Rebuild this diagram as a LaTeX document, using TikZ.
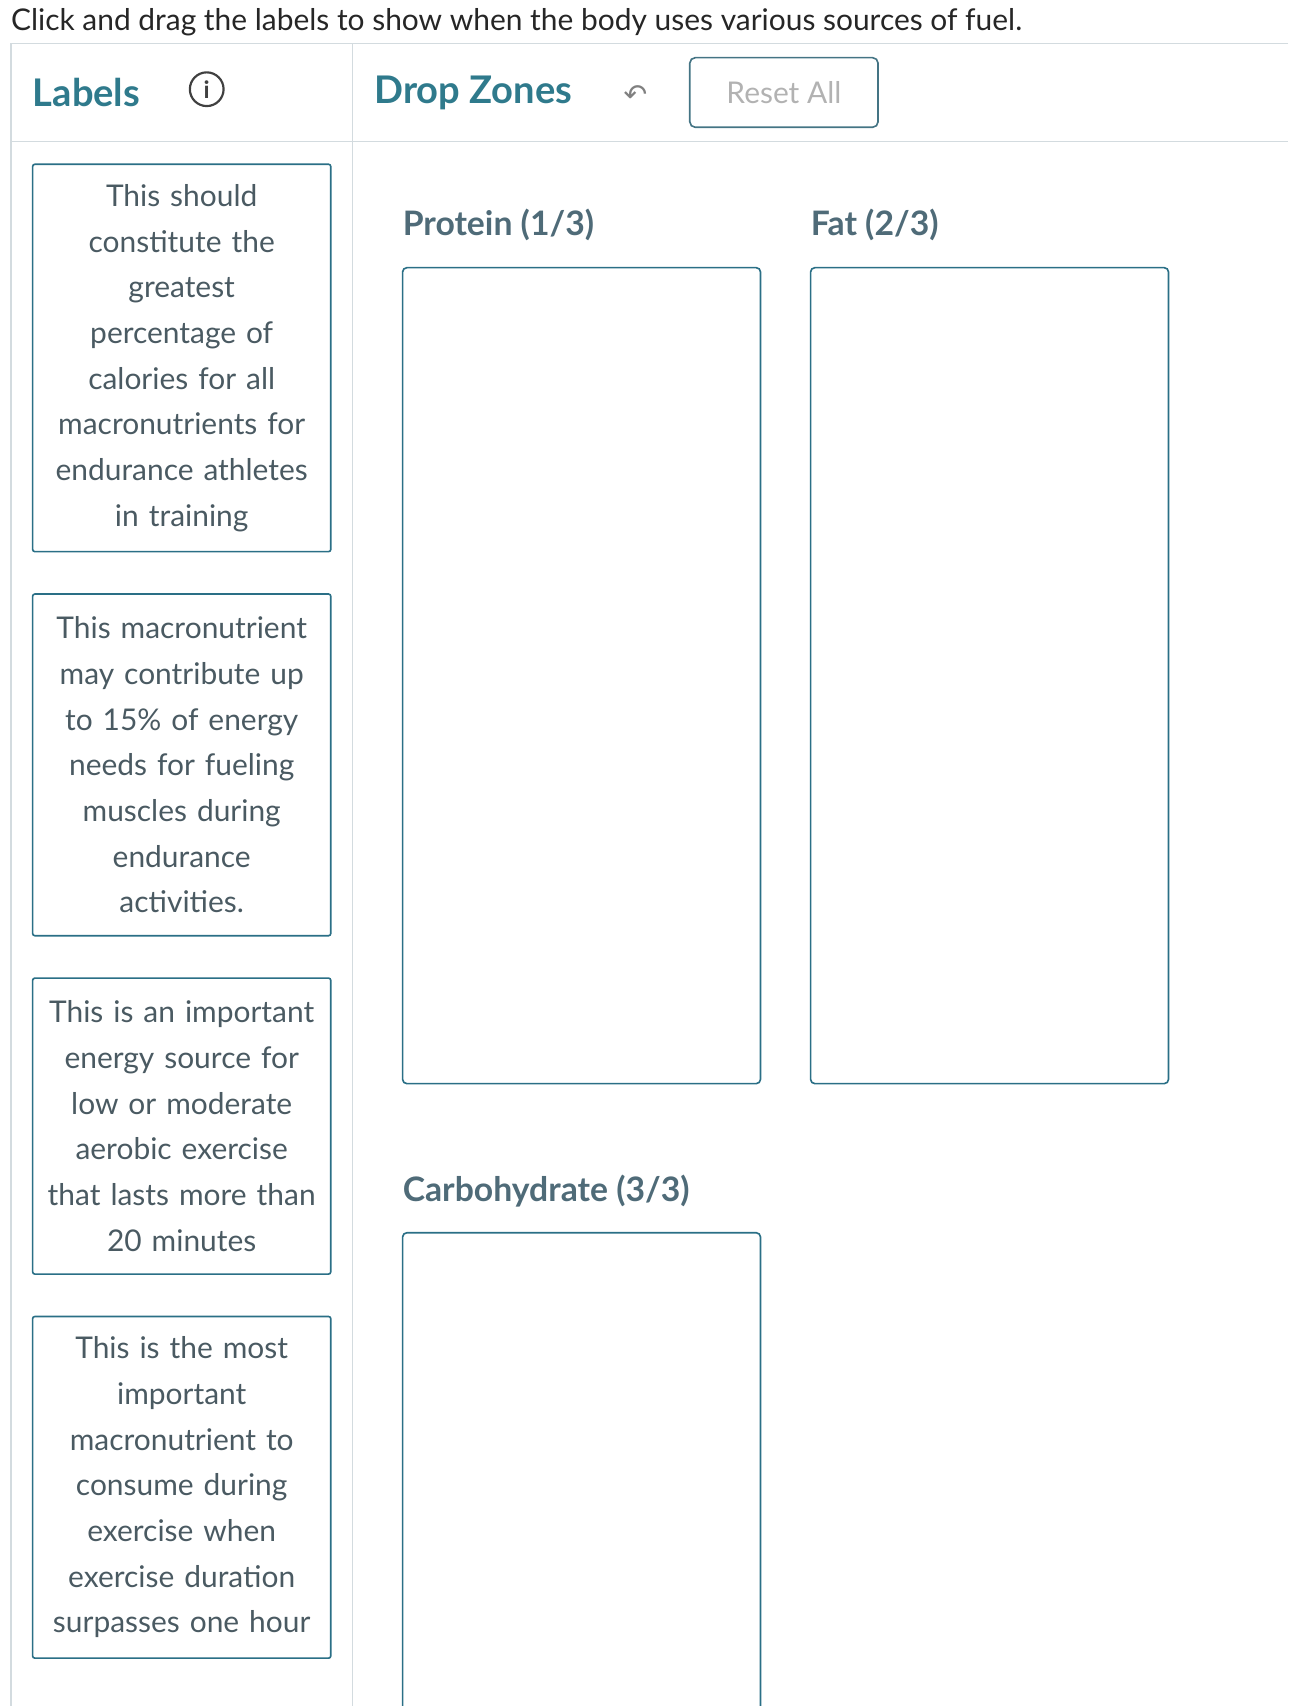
\documentclass[tikz,border=0pt]{standalone}
\usepackage{fontspec}
\setmainfont{Lato}
\definecolor{teal1}{HTML}{2F7A8C}
\definecolor{boxc}{HTML}{2A6F86}
\definecolor{txt}{HTML}{4A5A62}
\definecolor{grid}{HTML}{D3DBDF}
\definecolor{zonet}{HTML}{4F6B78}
\begin{document}
\begin{tikzpicture}[x=1pt,y=-1pt,
  lbl/.style={draw=boxc,line width=1.5pt,rounded corners=2pt,text=txt,align=center,text width=274pt,minimum width=274pt,inner sep=0pt,font=\fontsize{27.5}{42}\selectfont},
  zone/.style={draw=boxc,line width=1.5pt,rounded corners=4pt},
  ztitle/.style={anchor=west,text=zonet,font=\fontsize{31}{34}\selectfont\bfseries,inner sep=0pt},
  gl/.style={draw=grid,line width=1.5pt}]
\useasboundingbox (0,0) rectangle (1184,1568);
\node[anchor=west,inner sep=0pt,text=black!85,font=\fontsize{27.5}{30}\selectfont] (title) at (10,20) {Click and drag the labels to show when the body uses various sources of fuel.};
\draw[gl] (1184,40) -- (10,40) -- (10,1568);
\draw[gl] (324,40) -- (324,1568);
\draw[gl] (10,130) -- (1184,130);
\node[anchor=west,inner sep=0pt,text=teal1,font=\fontsize{35}{36}\selectfont\bfseries] (lab) at (30,85) {Labels};
\node[draw=black!75,circle,line width=2pt,minimum size=31pt,inner sep=0pt,text=black!75,font=\fontsize{22}{22}\selectfont\bfseries] (info) at (190,82) {i};
\node[anchor=west,inner sep=0pt,text=teal1,font=\fontsize{35}{36}\selectfont\bfseries] (dz) at (344,85) {Drop Zones};
\node[text=black!50,inner sep=0pt,font=\fontsize{26}{26}\selectfont] (undo) at (584,87) {\fontspec{DejaVu Sans}↶};
\node[draw=boxc!70!gray,line width=1.5pt,rounded corners=5pt,minimum width=173pt,minimum height=64pt,text=gray!60,font=\fontsize{27.5}{30}\selectfont] (reset) at (720.5,85) {Reset All};
\node[lbl,minimum height=356pt] (l1) at (167,329) {This should\\constitute the\\greatest\\percentage of\\calories for all\\macronutrients for\\endurance athletes\\in training};
\node[lbl,minimum height=314pt] (l2) at (167,703) {This macronutrient\\may contribute up\\to 15\% of energy\\needs for fueling\\muscles during\\endurance\\activities.};
\node[lbl,minimum height=272pt] (l3) at (167,1035) {This is an important\\energy source for\\low or moderate\\aerobic exercise\\that lasts more than\\20 minutes};
\node[lbl,minimum height=314pt] (l4) at (167,1367) {This is the most\\important\\macronutrient to\\consume during\\exercise when\\exercise duration\\surpasses one hour};
\node[ztitle] (pt) at (370,207) {Protein (1/3)};
\node[ztitle] (ft) at (745,207) {Fat (2/3)};
\node[ztitle] (ct) at (370,1095) {Carbohydrate (3/3)};
\draw[zone] (370,246) rectangle (699,996);
\draw[zone] (745,246) rectangle (1074,996);
\draw[zone] (370,1580) -- (370,1133) -- (699,1133) -- (699,1580);
\end{tikzpicture}
\end{document}
